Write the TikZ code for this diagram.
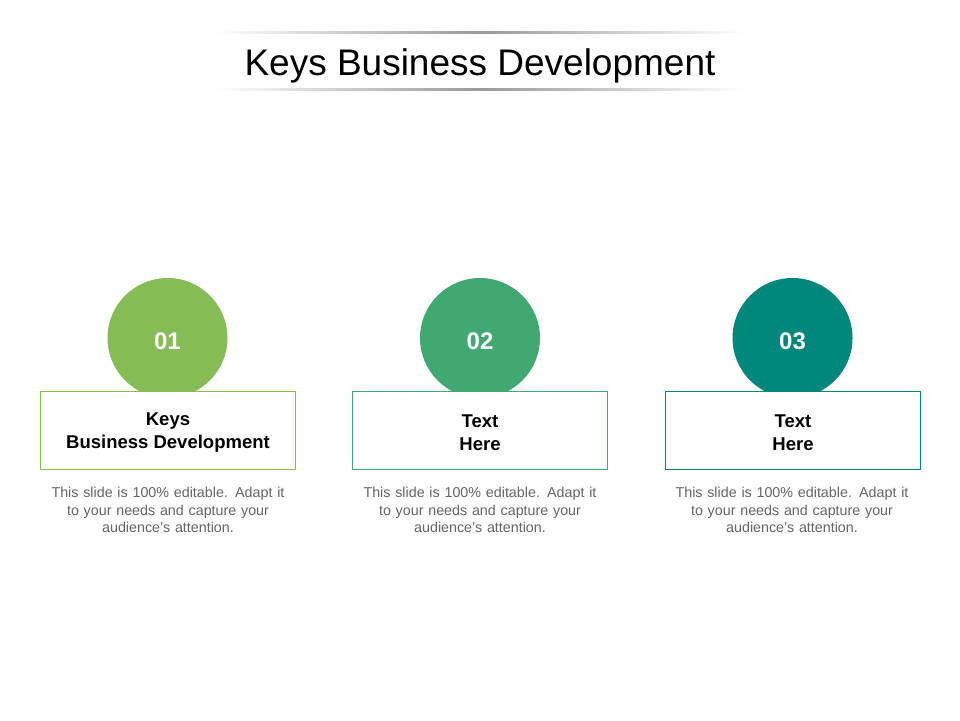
\documentclass[tikz,border=0pt]{standalone}
\usepackage{fontspec}
\setmainfont{Liberation Sans}
\definecolor{cA}{HTML}{86BC56}
\definecolor{cB}{HTML}{42A872}
\definecolor{cC}{HTML}{00877B}
\definecolor{body}{HTML}{666666}
\begin{document}
\begin{tikzpicture}[x=1pt,y=-1pt,
  numcircle/.style={circle,fill=#1,minimum size=120pt,inner sep=0pt},
  numtext/.style={text=white,inner sep=0pt,font=\fontsize{24}{28}\selectfont\bfseries},
  headbox/.style={draw=#1,line width=0.9pt,fill=white,minimum width=255pt,minimum height=78pt,inner sep=0pt},
  headtext/.style={align=center,inner sep=0pt,font=\fontsize{18.5}{23}\selectfont\bfseries},
  bodytext/.style={text=body,align=center,text width=250pt,inner sep=0pt,font=\fontsize{14.3}{17.5}\selectfont},
  titletext/.style={font=\fontsize{37}{44}\selectfont,inner sep=0pt}]
\useasboundingbox (0,0) rectangle (960,720);
\fill[white] (0,0) rectangle (960,720);
% title lines
\shade[left color=white,right color=white,middle color=gray!80] (215,31) rectangle (745,33);
\shade[left color=white,right color=white,middle color=gray!80] (215,88) rectangle (745,90);
\node[titletext] (title) at (480,66) {Keys Business Development};
% column 1
\node[numcircle=cA] (c1) at (167.5,338) {};
\node[numtext] (n1) at (167.5,341) {01};
\node[headbox=cA] (b1) at (168,430) {};
\node[headtext] (h1) at (168,433) {Keys\\Business Development};
\node[bodytext,anchor=north] (t1) at (168,487) {This slide is 100\% editable. Adapt it\\to your needs and capture your\\audience's attention.};
% column 2
\node[numcircle=cB] (c2) at (480,338) {};
\node[numtext] (n2) at (480,341) {02};
\node[headbox=cB] (b2) at (480,430) {};
\node[headtext] (h2) at (480,433) {Text\\Here};
\node[bodytext,anchor=north] (t2) at (480,487) {This slide is 100\% editable. Adapt it\\to your needs and capture your\\audience's attention.};
% column 3
\node[numcircle=cC] (c3) at (792.5,338) {};
\node[numtext] (n3) at (792.5,341) {03};
\node[headbox=cC] (b3) at (793,430) {};
\node[headtext] (h3) at (793,433) {Text\\Here};
\node[bodytext,anchor=north] (t3) at (792,487) {This slide is 100\% editable. Adapt it\\to your needs and capture your\\audience's attention.};
\end{tikzpicture}
\end{document}
